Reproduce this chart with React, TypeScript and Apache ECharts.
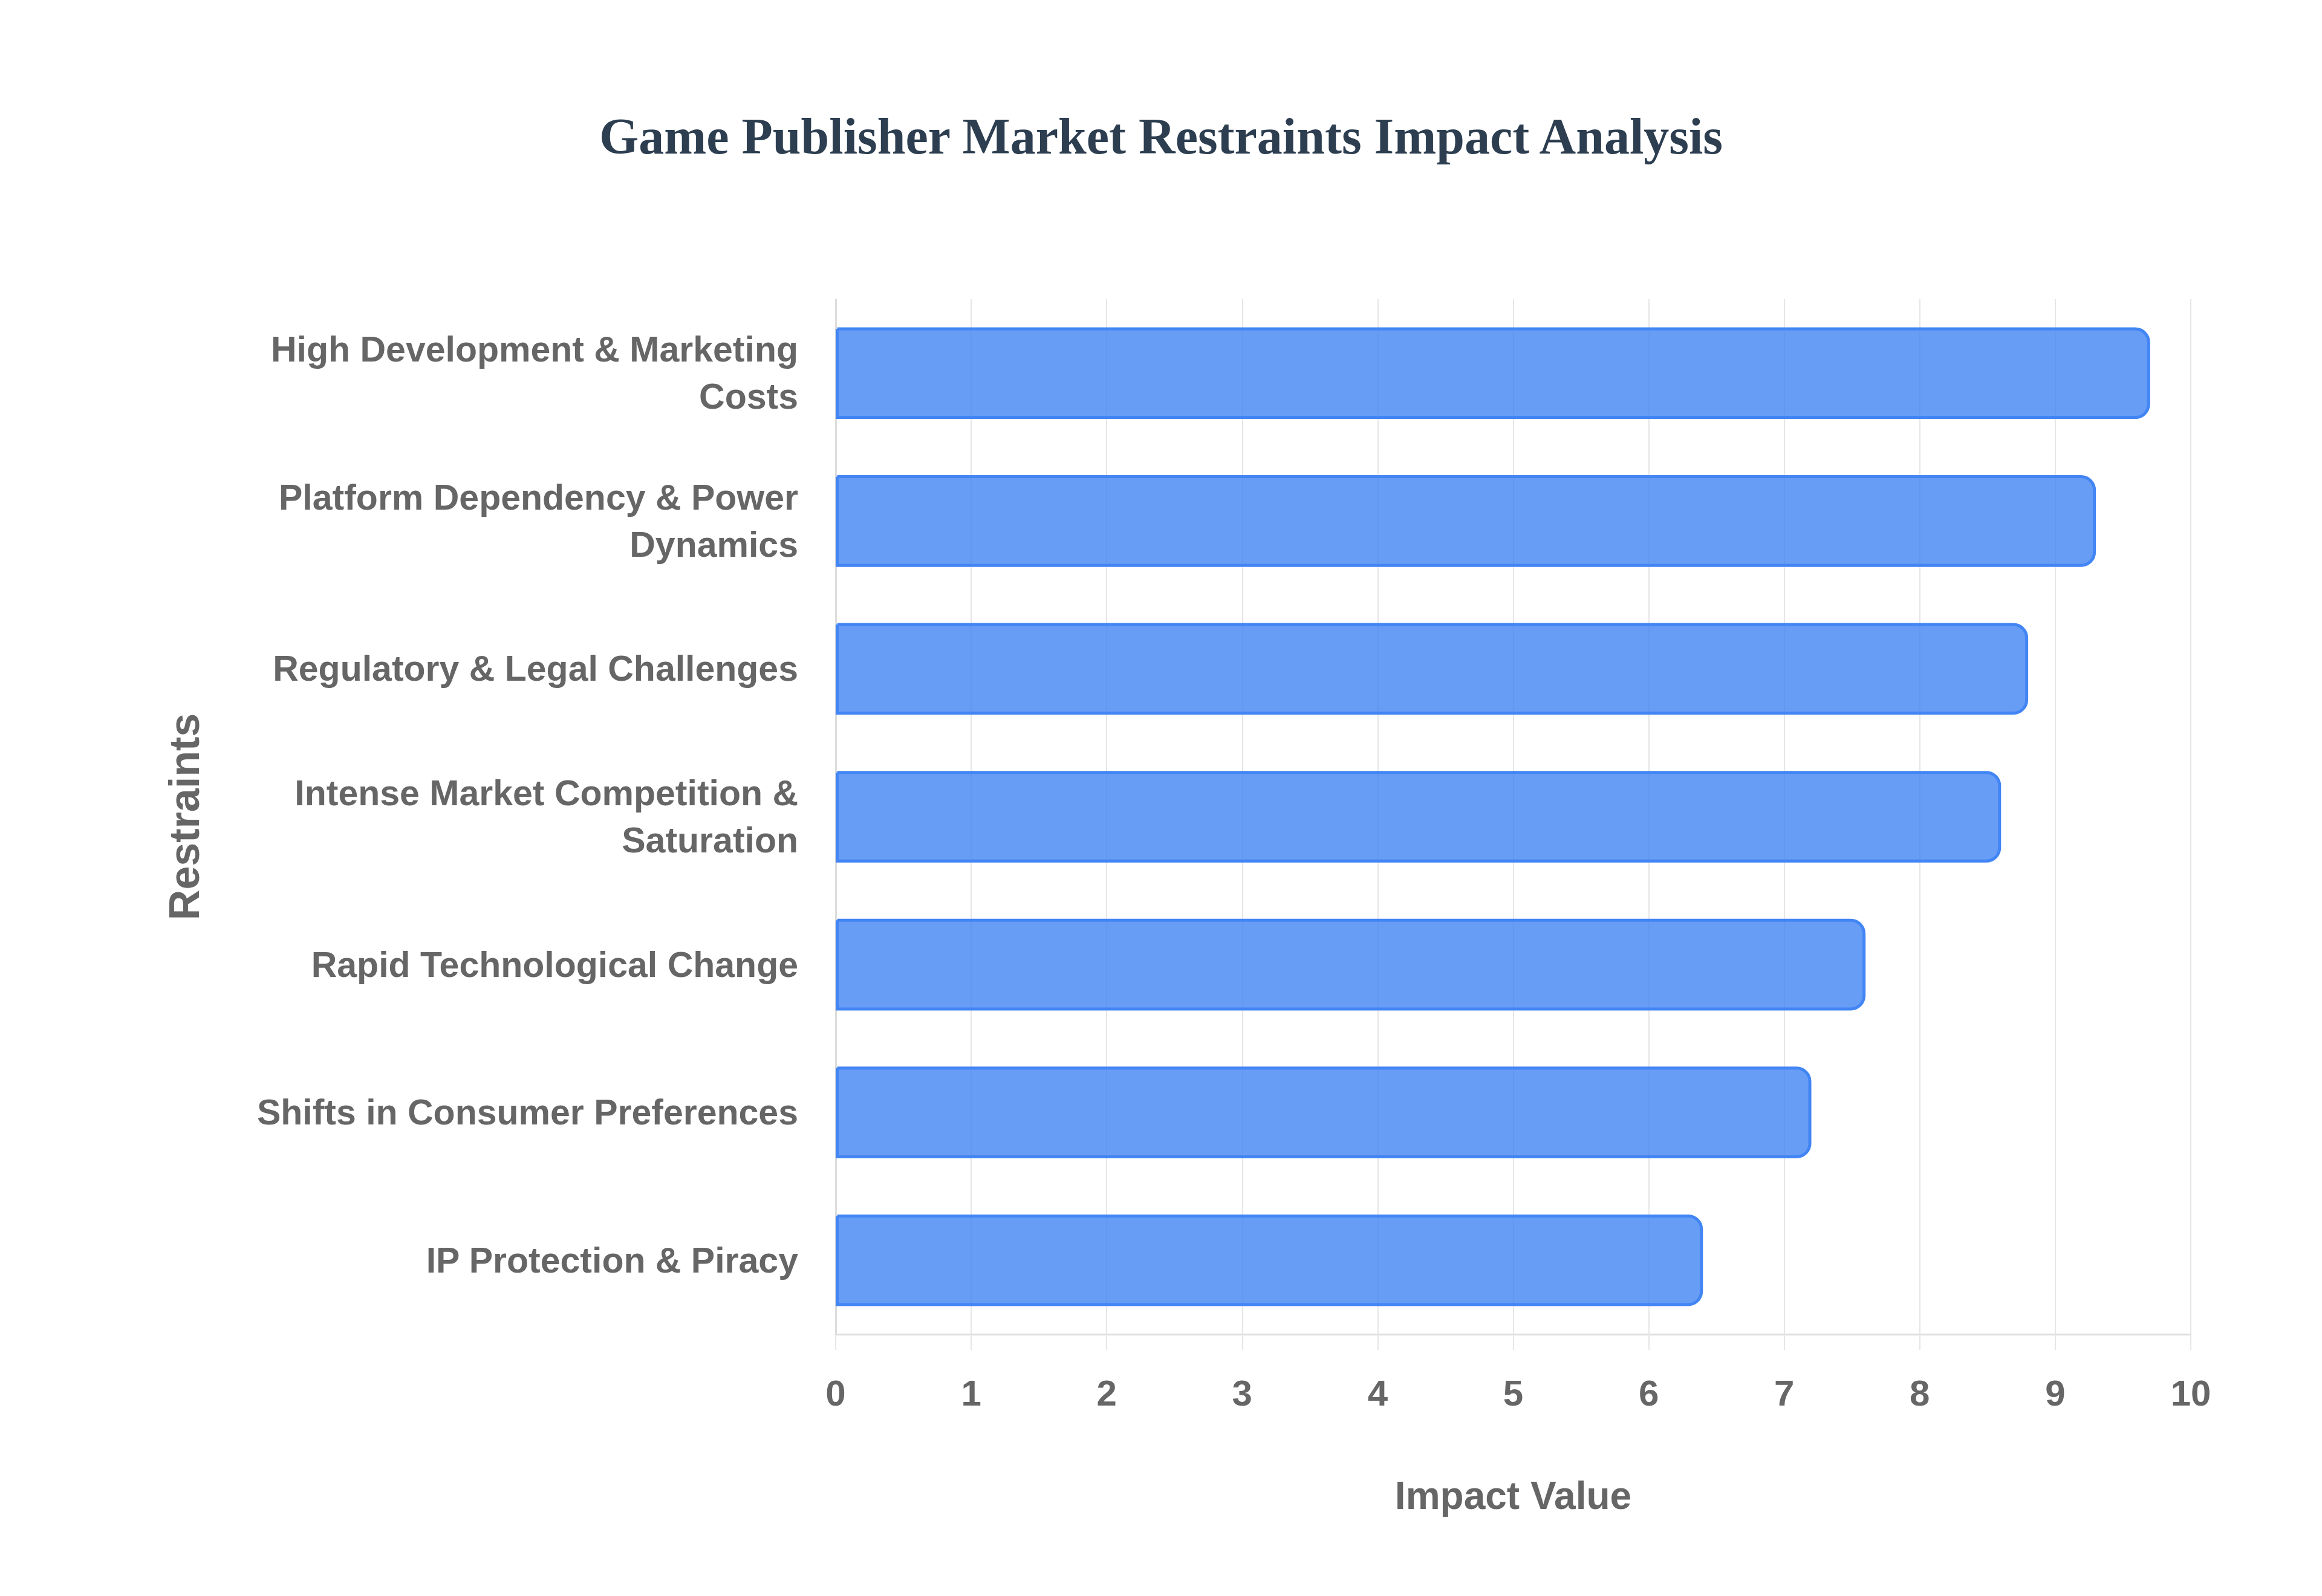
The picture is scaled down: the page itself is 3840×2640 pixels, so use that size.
import React, { useEffect, useRef } from "react";
import * as echarts from "echarts";

// restraint categories, top to bottom
const restraints = [
  "High Development & Marketing Costs",
  "Platform Dependency & Power Dynamics",
  "Regulatory & Legal Challenges",
  "Intense Market Competition & Saturation",
  "Rapid Technological Change",
  "Shifts in Consumer Preferences",
  "IP Protection & Piracy",
];

// impact value
const impactValues = [9.7, 9.3, 8.8, 8.6, 7.6, 7.2, 6.4];

const sans = "'Liberation Sans', Arial, Helvetica, sans-serif";
const serif = "'Liberation Serif', 'Times New Roman', serif";

// wrap long labels onto two lines, without a trailing space on the first
const wrapLabel = (label: string) => {
  if (label.length <= 30) return label;
  const words = label.split(" ");
  let first = "";
  let i = 0;
  while (i < words.length && (first ? first.length + 1 : 0) + words[i].length <= 28) {
    first = first ? first + " " + words[i] : words[i];
    i++;
  }
  return first + "\n" + words.slice(i).join(" ");
};

const App = () => {
  const chartRef = useRef<HTMLDivElement>(null);

  useEffect(() => {
    document.body.style.margin = "0";
    if (!chartRef.current) return;
    const chart = echarts.init(chartRef.current, undefined, { renderer: "svg" });

    const option = {
      animation: false,
      backgroundColor: "#ffffff",
      title: {
        text: "Game Publisher Market Restraints Impact Analysis",
        left: "center",
        top: 178,
        textStyle: {
          fontFamily: serif,
          fontSize: 84,
          fontWeight: "bold",
          color: "#2c3e50",
        },
      },
      grid: {
        left: 1382,
        right: 217,
        top: 495,
        bottom: 433,
        containLabel: false,
      },
      xAxis: {
        type: "value",
        min: 0,
        max: 10,
        interval: 1,
        name: "Impact Value",
        nameLocation: "middle",
        nameGap: 235,
        nameTextStyle: {
          fontFamily: sans,
          fontSize: 64,
          fontWeight: "bold",
          color: "#666666",
        },
        axisLine: { show: true, lineStyle: { color: "#dddddd", width: 3 } },
        axisTick: { show: true, length: 26, lineStyle: { color: "#e6e6e6", width: 2 } },
        axisLabel: {
          margin: 67,
          fontFamily: sans,
          fontSize: 60,
          fontWeight: "bold",
          color: "#666666",
        },
        splitLine: { show: true, lineStyle: { color: "#e6e6e6", width: 2 } },
      },
      yAxis: {
        type: "category",
        data: restraints,
        inverse: true,
        name: "Restraints",
        nameLocation: "middle",
        nameGap: 1042,
        nameTextStyle: {
          fontFamily: sans,
          fontSize: 70,
          fontWeight: "bold",
          color: "#666666",
        },
        axisLine: { show: true, lineStyle: { color: "#dddddd", width: 3 } },
        axisTick: { show: false },
        splitLine: { show: false },
        axisLabel: {
          margin: 62,
          fontFamily: sans,
          fontSize: 59,
          fontWeight: "bold",
          color: "#666666",
          lineHeight: 78,
          align: "right",
          formatter: (value: string) => wrapLabel(value),
        },
      },
      series: [
        {
          type: "bar",
          data: impactValues,
          barCategoryGap: "38%",
          itemStyle: {
            color: "rgba(66, 133, 244, 0.8)",
            borderColor: "#4285f4",
            borderWidth: 5,
            borderRadius: [0, 22, 22, 0],
          },
        },
      ],
    };

    chart.setOption(option);

    return () => {
      chart.dispose();
    };
  }, []);

  return <div ref={chartRef} style={{ width: "3840px", height: "2640px" }}></div>;
};

export default App;
